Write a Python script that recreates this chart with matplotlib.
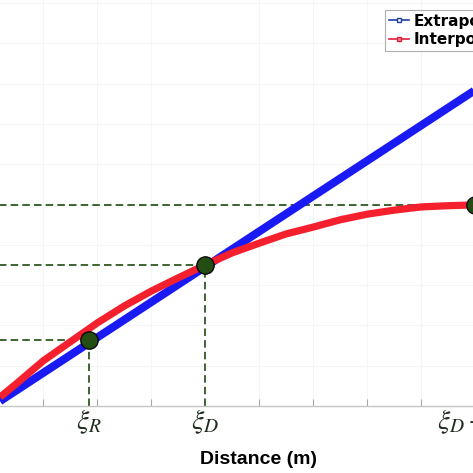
import matplotlib
matplotlib.use("Agg")
import matplotlib.pyplot as plt
from matplotlib.lines import Line2D

# ---- data ----
blue_x = [6.0, 50.0]
blue_y = [1.2, 78.4]

red_x = [6, 7.5, 10, 12.5, 15, 17.5, 20, 22.5, 25, 27.5, 30, 32.5, 35, 37.5, 40, 42.5, 45, 47.5, 50]
red_y = [2.2, 5.5, 11.2, 15.9, 20.6, 24.8, 28.5, 31.8, 35.0, 38.0, 40.4, 42.7, 44.4, 46.2, 47.6,
         48.6, 49.4, 49.7, 49.9]

pts_x = [14.2, 25.0, 50.0]
pts_y = [16.4, 35.0, 49.9]
pt_labels = [r'$\xi_R$', r'$\xi_D$', r'$\xi_D+\Delta$']

grid_x = [10, 15, 20, 25, 30, 35, 40, 45, 50, 55]
grid_y = [10, 20, 30, 40, 50, 60, 70, 80, 90, 100]

legend_labels = ['Extrapolation', 'Interpolation']

plt.rcParams['mathtext.fontset'] = 'stix'

fig = plt.figure(figsize=(4.73, 4.73), dpi=100)
W = 473.0
xpx = 10.8   # px per x unit
ypx = 4.03   # px per y unit
x0, x1 = 5, 60
y0, y1 = 0, 110
ax = fig.add_axes([-(6 - x0) * xpx / W, 67 / W, (x1 - x0) * xpx / W, (y1 - y0) * ypx / W])
ax.set_xlim(x0, x1)
ax.set_ylim(y0, y1)

for s in ['left', 'top', 'right']:
    ax.spines[s].set_visible(False)
ax.spines['bottom'].set_color('#c4c4c4')
ax.spines['bottom'].set_linewidth(1.0)

ax.set_xticks(grid_x, minor=True)
ax.set_yticks(grid_y, minor=True)
ax.set_yticks([])
ax.set_xticks(pts_x)
ax.set_xticklabels(pt_labels, fontsize=20, color='#1f2f1f')
ax.tick_params(axis='x', which='major', length=0, pad=1)
ax.tick_params(axis='x', which='minor', direction='in', length=5, color='#a8a8a8', width=0.8)
ax.tick_params(axis='y', which='minor', length=0)
ax.grid(True, which='minor', color='#f5f5f5', linewidth=0.8)
ax.set_axisbelow(True)

dash_c = '#1e4a10'
ls = (0, (4.5, 2.5))
for px_, py_ in zip(pts_x, pts_y):
    ax.plot([x0, px_], [py_, py_], color=dash_c, lw=1.2, ls=ls, zorder=2)
    ax.plot([px_, px_], [y0, py_], color=dash_c, lw=1.2, ls=ls, zorder=2)

ax.plot(blue_x, blue_y, color='#1a1af5', lw=5.8, solid_capstyle='butt', zorder=3)
ax.plot(red_x, red_y, color='#f5202e', lw=5.2, solid_capstyle='butt', solid_joinstyle='round', zorder=4)
ax.plot(pts_x, pts_y, 'o', ms=12.5, mfc='#234d12', mec='black', mew=0.9, zorder=5, clip_on=False)

ax.set_xlabel('Distance (m)', fontsize=14, fontweight='bold', family='Liberation Sans')
ax.xaxis.set_label_coords((258 + 10.8) / ((x1 - x0) * xpx), -(459 - 406) / ((y1 - y0) * ypx))
ax.xaxis.label.set_va('center')

handles = [
    Line2D([], [], color='#1f3fa0', lw=1.2, marker='s', ms=3.5, mfc='white', mec='#1f3fa0'),
    Line2D([], [], color='#e02040', lw=1.2, marker='s', ms=3.5, mfc='#f08090', mec='#e02040'),
]
leg = fig.legend(handles, legend_labels, loc='upper left', bbox_to_anchor=(385 / W, 1 - 10 / W),
                 prop={'family': 'DejaVu Sans', 'weight': 'bold', 'size': 11},
                 frameon=True, fancybox=False, handlelength=1.3, handletextpad=0.3,
                 labelspacing=0.2, borderpad=0.25, borderaxespad=0)
leg.get_frame().set_edgecolor('#9a9a9a')
leg.get_frame().set_linewidth(0.8)

fig.savefig('out.png', dpi=100)
